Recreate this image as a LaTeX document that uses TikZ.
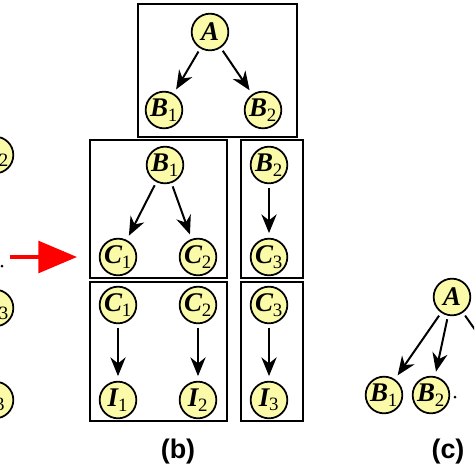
\documentclass[tikz,border=0pt]{standalone}
\usepackage{fontspec}
\setmainfont{Liberation Serif}
\newfontfamily\panelfont{Liberation Sans}
\usetikzlibrary{arrows.meta}
\definecolor{nodeyellow}{RGB}{250,250,168}
\newcommand{\sub}[1]{\textsubscript{\mdseries\upshape #1}}
\begin{document}
\begin{tikzpicture}[x=0.03cm,y=-0.03cm,
    vertex/.style={circle,draw,line width=1.5pt,fill=nodeyellow,minimum size=1.1cm,inner sep=0pt,
      font=\fontsize{23}{25}\selectfont\bfseries\itshape},
    edge/.style={line width=1.7pt,-{Stealth[length=16pt,width=13pt]},shorten <=3pt,shorten >=4pt},
    frame/.style={draw,line width=1.8pt},
    caption/.style={font=\panelfont\fontsize{23}{25}\selectfont\bfseries}]
      \useasboundingbox (0,0) rectangle (474,474);
      \clip (0,0) rectangle (474,474);
      % frames of panel (b)
      \draw[frame] (138,4) rectangle (297,137);
      \draw[frame] (90,140) rectangle (227,278);
      \draw[frame] (241,140) rectangle (303,278);
      \draw[frame] (90,282) rectangle (227,421);
      \draw[frame] (241,282) rectangle (303,421);
      % nodes
      \draw
        (-5,155) node[vertex] (lb2){B\sub{2}}
        (-5,308) node[vertex] (lc3){C\sub{3}}
        (-5,400) node[vertex] (li3){I\sub{3}}
        (210,32) node[vertex] (a){A}
        (164,110) node[vertex] (b1){B\sub{1}}
        (263,110) node[vertex] (b2){B\sub{2}}
        (165,165) node[vertex] (b1m){B\sub{1}}
        (118,257) node[vertex] (c1){C\sub{1}}
        (198,257) node[vertex] (c2){C\sub{2}}
        (269,165) node[vertex] (b2m){B\sub{2}}
        (269,257) node[vertex] (c3){C\sub{3}}
        (118,305) node[vertex] (c1m){C\sub{1}}
        (198,305) node[vertex] (c2m){C\sub{2}}
        (269,305) node[vertex] (c3m){C\sub{3}}
        (118,400) node[vertex] (i1){I\sub{1}}
        (198,400) node[vertex] (i2){I\sub{2}}
        (269,400) node[vertex] (i3){I\sub{3}}
        (452,297) node[vertex] (ca){A}
        (384,395) node[vertex] (cb1){B\sub{1}}
        (431,395) node[vertex] (cb2){B\sub{2}};
      \coordinate (cb3) at (521,395);
      \coordinate (rs) at (10,257);
      \coordinate (re) at (77,257);
      \fill (2,266) circle (1.5);
      \fill (455,397) circle (1.5);
      \begin{scope}[edge]
        \draw (a) to (b1);
        \draw (a) to (b2);
        \draw (b1m) to (c1);
        \draw (b1m) to (c2);
        \draw (b2m) to (c3);
        \draw (c1m) to (i1);
        \draw (c2m) to (i2);
        \draw (c3m) to (i3);
        \draw (ca) to (cb1);
        \draw (ca) to (cb2);
        \draw (ca) to (cb3);
      \end{scope}
      \draw[red,line width=3.4pt,-{Triangle[length=33pt,width=27pt]}] (rs) -- (re);
      \node[caption] (capb) at (178,452) {(b)};
      \node[caption] (capc) at (448,452) {(c)};
    \end{tikzpicture}
\end{document}
